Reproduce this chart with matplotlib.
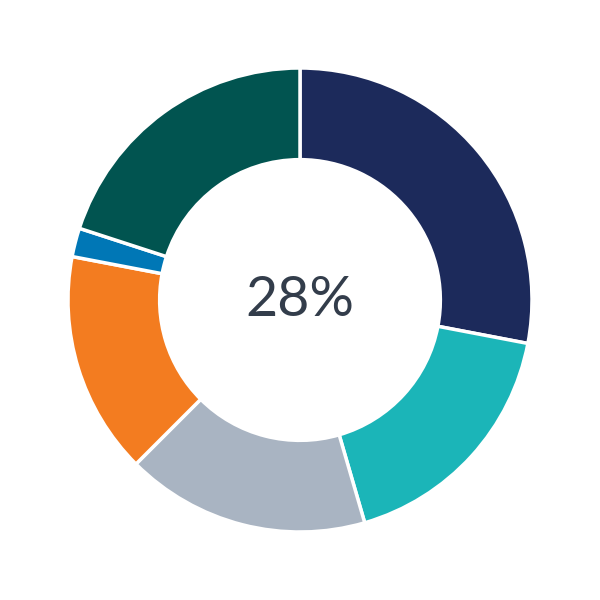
import matplotlib
matplotlib.use("Agg")
import matplotlib.pyplot as plt

# slice shares, clockwise from 12 o'clock
labels = ["A", "B", "C", "D", "E", "F"]
values = [28, 17.5, 17, 15.5, 2, 20]
colors = ["#1c2a5b", "#1bb5b8", "#a9b4c2", "#f37c20", "#0077b6", "#015450"]
center_text = "28%"

fig = plt.figure(figsize=(6, 6), dpi=100)
ax = fig.add_axes([0, 0, 1, 1])

ax.pie(
    values,
    colors=colors,
    startangle=90,
    counterclock=False,
    radius=1,
    wedgeprops=dict(width=0.395, edgecolor="white", linewidth=2.5),
)

ax.text(0, 0, center_text, ha="center", va="center",
        fontsize=40, color="#333d4b", family="Lato")

lim = 300 / 232
ax.set_xlim(-lim, lim)
ax.set_ylim(-lim, lim)
ax.set_aspect("equal")
ax.axis("off")

fig.savefig("out.png", dpi=100, facecolor="white")
